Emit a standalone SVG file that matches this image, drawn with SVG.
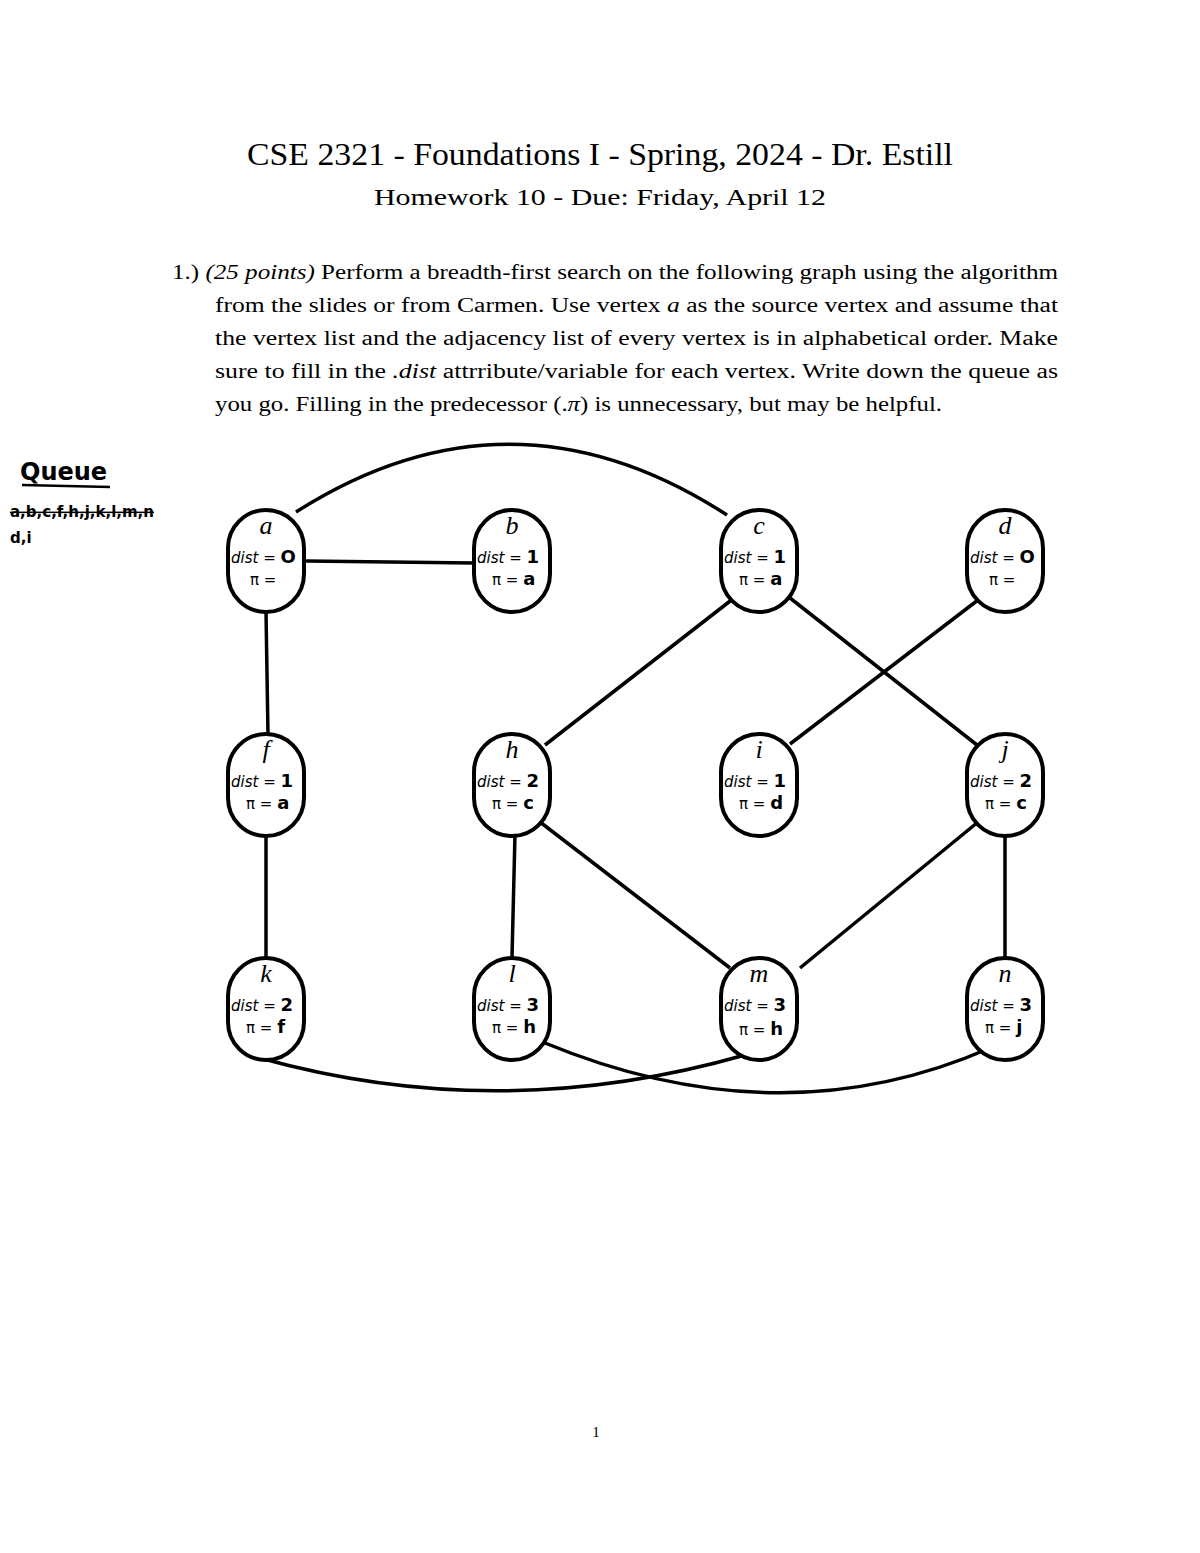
<svg xmlns="http://www.w3.org/2000/svg" width="1200" height="1553" viewBox="0 0 1200 1553">
<style>
.n{fill:#fff;stroke:#000;stroke-width:4}
.e{fill:none;stroke:#000;stroke-width:3.5}
.t{font-family:"Liberation Serif",serif;fill:#000}
.lab{font-family:"Liberation Serif",serif;font-style:italic;font-size:26px;text-anchor:middle}
.d{font-family:"DejaVu Sans",sans-serif;font-size:15px}
.di{font-style:italic}
.h{font-family:"DejaVu Sans",sans-serif;font-weight:bold;font-size:18px}
</style>
<rect width="1200" height="1553" fill="#fff"/>
<text class="t" x="247" y="165" font-size="31" textLength="706" lengthAdjust="spacingAndGlyphs">CSE 2321 - Foundations I - Spring, 2024 - Dr. Estill</text>
<text class="t" x="374" y="205" font-size="24" textLength="452" lengthAdjust="spacingAndGlyphs">Homework 10 - Due: Friday, April 12</text>
<g class="t" font-size="20.5">
<text x="172" y="279" textLength="886" lengthAdjust="spacingAndGlyphs">1.)  <tspan font-style="italic">(25 points)</tspan> Perform a breadth-first search on the following graph using the algorithm</text>
<text x="215" y="312" textLength="843" lengthAdjust="spacingAndGlyphs">from the slides or from Carmen. Use vertex <tspan font-style="italic">a</tspan> as the source vertex and assume that</text>
<text x="215" y="345" textLength="843" lengthAdjust="spacingAndGlyphs">the vertex list and the adjacency list of every vertex is in alphabetical order. Make</text>
<text x="215" y="378" textLength="843" lengthAdjust="spacingAndGlyphs">sure to fill in the <tspan font-style="italic">.dist</tspan> attrribute/variable for each vertex. Write down the queue as</text>
<text x="215" y="411" textLength="727" lengthAdjust="spacingAndGlyphs">you go. Filling in the predecessor (.<tspan font-style="italic">π</tspan>) is unnecessary, but may be helpful.</text>
</g>
<text class="t" x="596" y="1437" font-size="15" text-anchor="middle">1</text>
<g id="queue">
<text x="20" y="480" font-family="DejaVu Sans,sans-serif" font-weight="bold" font-size="24">Queue</text>
<line x1="22" y1="485" x2="110" y2="487" stroke="#000" stroke-width="2.5"/>
<text x="10" y="517" font-family="DejaVu Sans,sans-serif" font-weight="bold" font-size="15" text-decoration="line-through">a,b,c,f,h,j,k,l,m,n</text>
<text x="10" y="543" font-family="DejaVu Sans,sans-serif" font-weight="bold" font-size="15">d,i</text>
</g>
<g id="edges">
<path class="e" d="M296,512 Q511,375 727,515"/>
<line class="e" x1="306" y1="561" x2="474" y2="563"/>
<line class="e" x1="266" y1="612" x2="268" y2="735"/>
<line class="e" x1="734" y1="598" x2="545" y2="745"/>
<line class="e" x1="790" y1="598" x2="977" y2="745"/>
<line class="e" x1="978" y1="600" x2="790" y2="744"/>
<line class="e" x1="515" y1="834" x2="512" y2="957"/>
<line class="e" x1="540" y1="822" x2="730" y2="968"/>
<line class="e" x1="978" y1="822" x2="800" y2="968"/>
<line class="e" x1="1005" y1="834" x2="1005" y2="957"/>
<line class="e" x1="266" y1="834" x2="266" y2="957"/>
<path class="e" d="M260,1058 Q500,1125 745,1055"/>
<path class="e" d="M545,1043 Q780,1140 990,1048"/>
</g>
<g id="node-a"><rect class="n" x="228" y="510" width="76" height="102" rx="38"/><text class="lab" x="266" y="534">a</text><text class="d" x="231" y="563"><tspan class="di">dist</tspan> = <tspan class="h">O</tspan></text><text class="d" x="250" y="585">π =</text></g>
<g id="node-b"><rect class="n" x="474" y="510" width="76" height="102" rx="38"/><text class="lab" x="512" y="534">b</text><text class="d" x="477" y="563"><tspan class="di">dist</tspan> = <tspan class="h">1</tspan></text><text class="d" x="492" y="585">π = <tspan class="h">a</tspan></text></g>
<g id="node-c"><rect class="n" x="721" y="510" width="76" height="102" rx="38"/><text class="lab" x="759" y="534">c</text><text class="d" x="724" y="563"><tspan class="di">dist</tspan> = <tspan class="h">1</tspan></text><text class="d" x="739" y="585">π = <tspan class="h">a</tspan></text></g>
<g id="node-d"><rect class="n" x="967" y="510" width="76" height="102" rx="38"/><text class="lab" x="1005" y="534">d</text><text class="d" x="970" y="563"><tspan class="di">dist</tspan> = <tspan class="h">O</tspan></text><text class="d" x="989" y="585">π =</text></g>
<g id="node-f"><rect class="n" x="228" y="734" width="76" height="102" rx="38"/><text class="lab" x="266" y="758">f</text><text class="d" x="231" y="787"><tspan class="di">dist</tspan> = <tspan class="h">1</tspan></text><text class="d" x="246" y="809">π = <tspan class="h">a</tspan></text></g>
<g id="node-h"><rect class="n" x="474" y="734" width="76" height="102" rx="38"/><text class="lab" x="512" y="758">h</text><text class="d" x="477" y="787"><tspan class="di">dist</tspan> = <tspan class="h">2</tspan></text><text class="d" x="492" y="809">π = <tspan class="h">c</tspan></text></g>
<g id="node-i"><rect class="n" x="721" y="734" width="76" height="102" rx="38"/><text class="lab" x="759" y="758">i</text><text class="d" x="724" y="787"><tspan class="di">dist</tspan> = <tspan class="h">1</tspan></text><text class="d" x="739" y="809">π = <tspan class="h">d</tspan></text></g>
<g id="node-j"><rect class="n" x="967" y="734" width="76" height="102" rx="38"/><text class="lab" x="1005" y="758">j</text><text class="d" x="970" y="787"><tspan class="di">dist</tspan> = <tspan class="h">2</tspan></text><text class="d" x="985" y="809">π = <tspan class="h">c</tspan></text></g>
<g id="node-k"><rect class="n" x="228" y="958" width="76" height="102" rx="38"/><text class="lab" x="266" y="982">k</text><text class="d" x="231" y="1011"><tspan class="di">dist</tspan> = <tspan class="h">2</tspan></text><text class="d" x="246" y="1033">π = <tspan class="h">f</tspan></text></g>
<g id="node-l"><rect class="n" x="474" y="958" width="76" height="102" rx="38"/><text class="lab" x="512" y="982">l</text><text class="d" x="477" y="1011"><tspan class="di">dist</tspan> = <tspan class="h">3</tspan></text><text class="d" x="492" y="1033">π = <tspan class="h">h</tspan></text></g>
<g id="node-m"><rect class="n" x="721" y="958" width="76" height="102" rx="38"/><text class="lab" x="759" y="982">m</text><text class="d" x="724" y="1011"><tspan class="di">dist</tspan> = <tspan class="h">3</tspan></text><text class="d" x="739" y="1035">π = <tspan class="h" font-size="24">h</tspan></text></g>
<g id="node-n"><rect class="n" x="967" y="958" width="76" height="102" rx="38"/><text class="lab" x="1005" y="982">n</text><text class="d" x="970" y="1011"><tspan class="di">dist</tspan> = <tspan class="h">3</tspan></text><text class="d" x="985" y="1033">π = <tspan class="h">j</tspan></text></g>
</svg>
